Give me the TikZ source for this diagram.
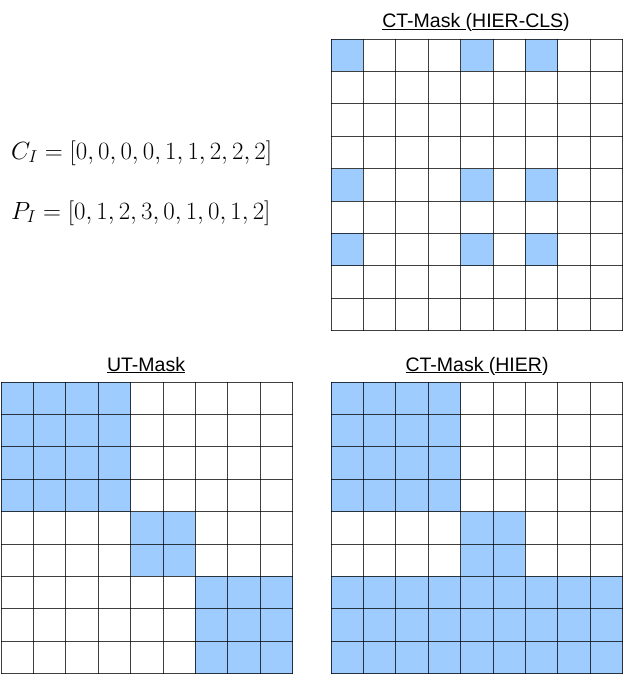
\documentclass[tikz,border=0pt]{standalone}
\usepackage{fontspec}
\setsansfont{Liberation Sans}
\usepackage{tikz}
\usetikzlibrary{positioning}
\definecolor{maskblue}{RGB}{159,204,255}

\begin{document}
\begin{tikzpicture}[x=1pt,y=-1pt,
  maskfill/.style={fill=maskblue},
  maskline/.style={draw=black,line width=0.9pt,opacity=0.75},
  masktitle/.style={font=\sffamily\fontsize{19.5}{23}\selectfont,inner sep=0pt,anchor=base},
  maskeq/.style={font=\fontsize{24.5}{28}\selectfont,inner sep=0pt,anchor=base west}]
  \useasboundingbox (0,0) rectangle (623,674);

  % index vectors
  \node[maskeq] (cvec) at (11,159) {$C_I = [0,0,0,0,1,1,2,2,2]$};
  \node[maskeq] (pvec) at (11,219) {$P_I = [0,1,2,3,0,1,0,1,2]$};

  % CT-Mask (HIER-CLS)
  \node[masktitle] (hierclsTitle) at (476,28) {\underline{CT-Mask\ }(\underline{HIER-CLS})};
  \begin{scope}[shift={(331,39)},x=32.4pt,y=-32.4pt]
    \foreach \r in {0,4,6}
      \foreach \c in {0,4,6}
        \fill[maskfill] (\c,\r) rectangle ++(1,1);
    \foreach \i in {0,...,9} {
      \draw[maskline] (\i,0) -- (\i,9);
      \draw[maskline] (0,\i) -- (9,\i);
    }
  \end{scope}

  % UT-Mask
  \node[masktitle] (utTitle) at (146,371) {\underline{UT-Mask}};
  \begin{scope}[shift={(1,382)},x=32.4pt,y=-32.4pt]
    \fill[maskfill] (0,0) rectangle (4,4);
    \fill[maskfill] (4,4) rectangle (6,6);
    \fill[maskfill] (6,6) rectangle (9,9);
    \foreach \i in {0,...,9} {
      \draw[maskline] (\i,0) -- (\i,9);
      \draw[maskline] (0,\i) -- (9,\i);
    }
  \end{scope}

  % CT-Mask (HIER)
  \node[masktitle] (hierTitle) at (477,371) {\underline{CT-Mask\ }(\underline{HIER})};
  \begin{scope}[shift={(331,382)},x=32.4pt,y=-32.4pt]
    \fill[maskfill] (0,0) rectangle (4,4);
    \fill[maskfill] (4,4) rectangle (6,6);
    \fill[maskfill] (0,6) rectangle (9,9);
    \foreach \i in {0,...,9} {
      \draw[maskline] (\i,0) -- (\i,9);
      \draw[maskline] (0,\i) -- (9,\i);
    }
  \end{scope}
\end{tikzpicture}
\end{document}
